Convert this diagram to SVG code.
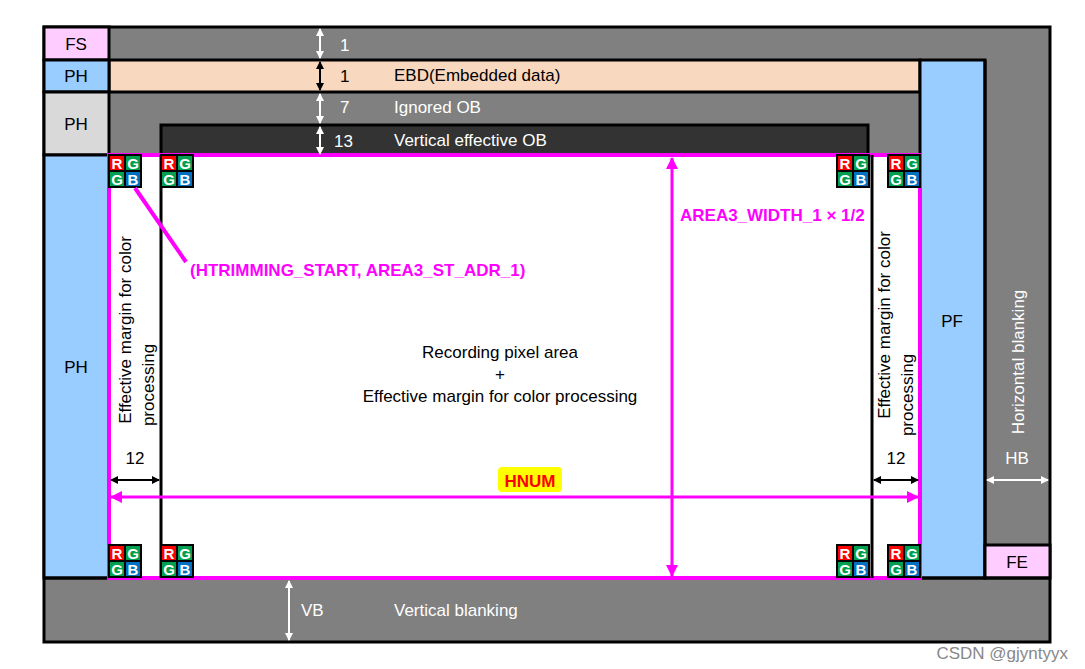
<svg xmlns="http://www.w3.org/2000/svg" width="1085" height="669" viewBox="0 0 1085 669">
<style>
text{font-family:"Liberation Sans",Arial,sans-serif;font-size:17px}
.w{fill:#fff}.k{fill:#000}.m{fill:#ff00ff;font-weight:bold}
.ln{stroke:#000;stroke-width:3}
.c{font-weight:bold;font-size:15px;fill:#fff;text-anchor:middle}
</style>
<defs>
<marker id="aw" markerWidth="8" markerHeight="8" refX="7" refY="4" orient="auto-start-reverse" markerUnits="userSpaceOnUse"><path d="M0,0L8,4L0,8z" fill="#fff"/></marker>
<marker id="ak" markerWidth="8" markerHeight="8" refX="7" refY="4" orient="auto-start-reverse" markerUnits="userSpaceOnUse"><path d="M0,0L8,4L0,8z" fill="#000"/></marker>
<marker id="am" markerWidth="12" markerHeight="12" refX="11" refY="6" orient="auto-start-reverse" markerUnits="userSpaceOnUse"><path d="M0,0L12,6L0,12z" fill="#ff00ff"/></marker>
<g id="rgb">
<rect x="0" y="0" width="16" height="16" fill="#ff0000" stroke="#000" stroke-width="2"/>
<rect x="16" y="0" width="16" height="16" fill="#00a050" stroke="#000" stroke-width="2"/>
<rect x="0" y="16" width="16" height="16" fill="#00a050" stroke="#000" stroke-width="2"/>
<rect x="16" y="16" width="16" height="16" fill="#0070c0" stroke="#000" stroke-width="2"/>
<text class="c" x="8" y="13.5">R</text><text class="c" x="24" y="13.5">G</text>
<text class="c" x="8" y="29.5">G</text><text class="c" x="24" y="29.5">B</text>
</g>
</defs>
<rect x="0" y="0" width="1085" height="669" fill="#fff"/>
<g id="frame"><rect x="44" y="27" width="1006" height="615" fill="#808080" class="ln"/></g>
<g id="fs"><rect x="44" y="27" width="65" height="33" fill="#ffccff" class="ln"/><text x="76" y="50" text-anchor="middle">FS</text></g>
<g id="ebd"><rect x="109" y="60" width="811" height="32" fill="#f8d8be" class="ln"/><text x="394" y="81">EBD(Embedded data)</text></g>
<g id="ph1"><rect x="44" y="60" width="65" height="32" fill="#99ccff" class="ln"/><text x="76" y="82" text-anchor="middle">PH</text></g>
<g id="ph2"><rect x="44" y="92" width="65" height="63" fill="#d9d9d9" class="ln"/><text x="76" y="130" text-anchor="middle">PH</text></g>
<g id="vob"><rect x="161" y="125" width="707" height="30" fill="#333" class="ln"/><text x="394" y="146" class="w">Vertical effective OB</text></g>
<g id="ign"><text x="394" y="113" class="w">Ignored OB</text></g>
<g id="ph3"><rect x="44" y="155" width="65" height="423" fill="#99ccff" class="ln"/><text x="76" y="373" text-anchor="middle">PH</text></g>
<g id="pf"><rect x="920" y="60" width="65" height="518" fill="#99ccff" class="ln"/><text x="952" y="327" text-anchor="middle">PF</text></g>
<g id="hb"><line x1="985" y1="60" x2="985" y2="578" class="ln"/><text transform="translate(1024,362) rotate(-90)" text-anchor="middle" class="w">Horizontal blanking</text><text x="1017" y="464" text-anchor="middle" class="w">HB</text></g>
<g id="fe"><rect x="985" y="545" width="65" height="33" fill="#ffccff" class="ln"/><text x="1017" y="568" text-anchor="middle">FE</text></g>
<g id="vb"><line x1="44" y1="578" x2="1050" y2="578" class="ln"/><text x="394" y="616" class="w">Vertical blanking</text><text x="301" y="616" class="w">VB</text></g>
<g id="area"><rect x="109" y="155" width="811" height="423" fill="#fff" stroke="#ff00ff" stroke-width="4"/>
<line x1="161" y1="155" x2="161" y2="578" class="ln"/><line x1="872" y1="155" x2="872" y2="578" class="ln"/>
<text x="500" y="358" text-anchor="middle">Recording pixel area</text>
<text x="500" y="380" text-anchor="middle">+</text>
<text x="500" y="402" text-anchor="middle">Effective margin for color processing</text>
<text transform="translate(131,330) rotate(-90)" text-anchor="middle">Effective margin for color</text>
<text transform="translate(154,385) rotate(-90)" text-anchor="middle">processing</text>
<text transform="translate(890,325) rotate(-90)" text-anchor="middle">Effective margin for color</text>
<text transform="translate(913,395) rotate(-90)" text-anchor="middle">processing</text>
<text x="135" y="464" text-anchor="middle">12</text><text x="896" y="464" text-anchor="middle">12</text>
</g>
<g id="rgbs">
<use href="#rgb" x="109" y="155"/><use href="#rgb" x="161" y="155"/><use href="#rgb" x="837" y="155"/><use href="#rgb" x="888" y="155"/>
<use href="#rgb" x="109" y="545"/><use href="#rgb" x="161" y="545"/><use href="#rgb" x="837" y="545"/><use href="#rgb" x="888" y="545"/>
</g>
<g id="labels">
<text x="190" y="276" class="m">(HTRIMMING_START, AREA3_ST_ADR_1)</text>
<text x="680" y="221" class="m" font-size="18">AREA3_WIDTH_1 × 1/2</text>
<rect x="498" y="467" width="64" height="25" rx="4" fill="#ffff00"/>
<text x="530" y="487" text-anchor="middle" fill="#ff0000" font-weight="bold" font-size="19">HNUM</text>
<text x="340" y="51" class="w">1</text><text x="340" y="82">1</text><text x="340" y="113" class="w">7</text><text x="334" y="147" class="w">13</text>
</g>
<g id="connectors" fill="none">
<line x1="320" y1="29" x2="320" y2="58" stroke="#fff" stroke-width="2" marker-start="url(#aw)" marker-end="url(#aw)"/>
<line x1="320" y1="62" x2="320" y2="90" stroke="#000" stroke-width="2" marker-start="url(#ak)" marker-end="url(#ak)"/>
<line x1="320" y1="94" x2="320" y2="123" stroke="#fff" stroke-width="2" marker-start="url(#aw)" marker-end="url(#aw)"/>
<line x1="320" y1="127" x2="320" y2="154" stroke="#fff" stroke-width="2" marker-start="url(#aw)" marker-end="url(#aw)"/>
<line x1="289" y1="581" x2="289" y2="640" stroke="#fff" stroke-width="2" marker-start="url(#aw)" marker-end="url(#aw)"/>
<line x1="987" y1="480" x2="1048" y2="480" stroke="#fff" stroke-width="2" marker-start="url(#aw)" marker-end="url(#aw)"/>
<line x1="111" y1="480" x2="159" y2="480" stroke="#000" stroke-width="2" marker-start="url(#ak)" marker-end="url(#ak)"/>
<line x1="874" y1="480" x2="918" y2="480" stroke="#000" stroke-width="2" marker-start="url(#ak)" marker-end="url(#ak)"/>
<line x1="111" y1="497" x2="918" y2="497" stroke="#ff00ff" stroke-width="3" marker-start="url(#am)" marker-end="url(#am)"/>
<line x1="672" y1="158" x2="672" y2="576" stroke="#ff00ff" stroke-width="3" marker-start="url(#am)" marker-end="url(#am)"/>
<line x1="135" y1="188" x2="186" y2="262" stroke="#ff00ff" stroke-width="4"/>
</g>
<text x="1068" y="659" text-anchor="end" font-size="11" fill="#888">CSDN @gjyntyyx</text>
</svg>
